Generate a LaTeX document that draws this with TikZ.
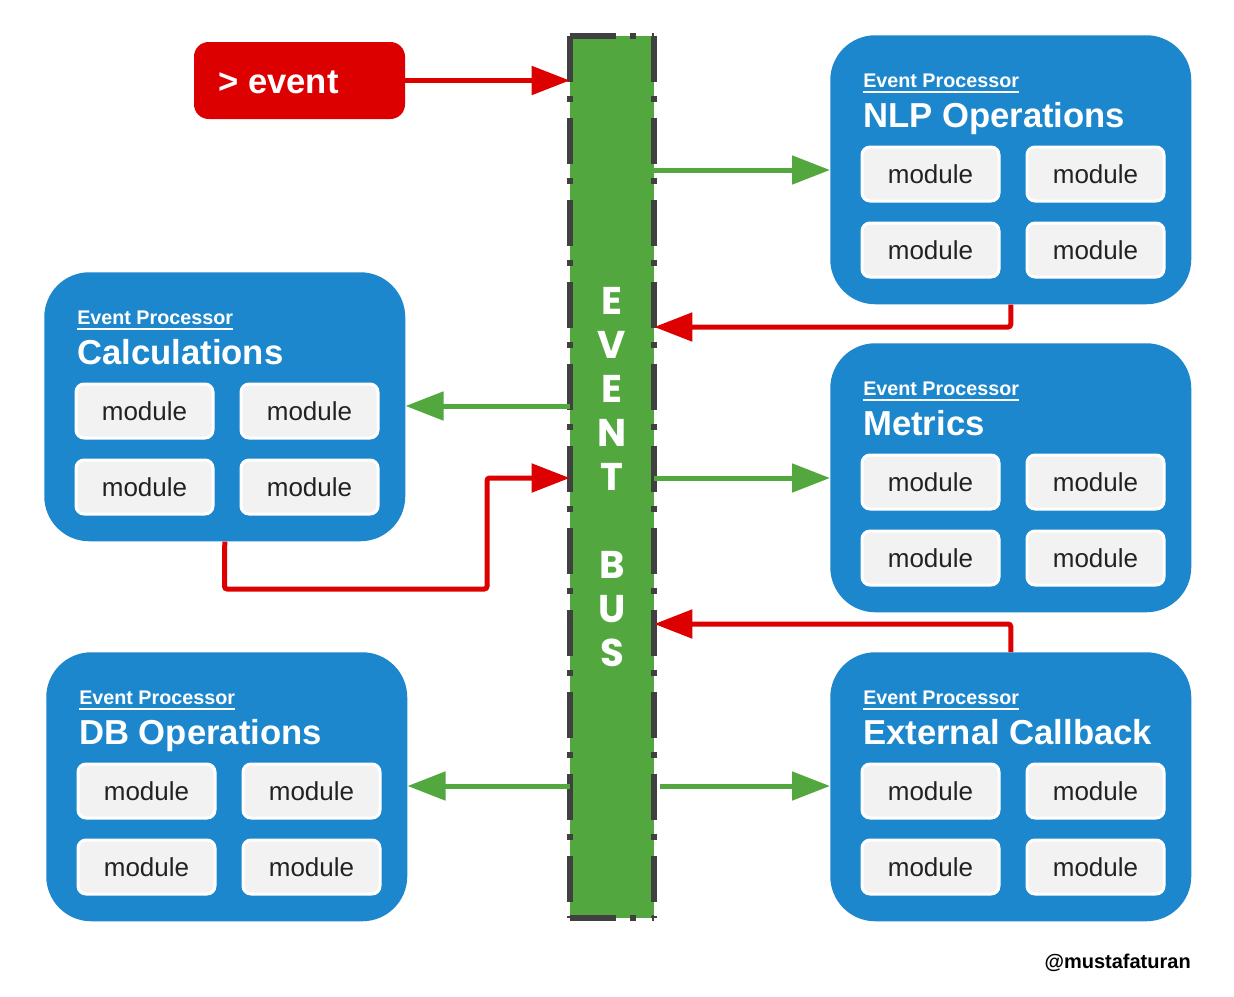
\documentclass[tikz,border=0pt]{standalone}
\usepackage{fontspec}
\setmainfont{Liberation Sans}
\newfontfamily\busfont{Poppins}
\usetikzlibrary{arrows.meta,calc}
\definecolor{epblue}{HTML}{1D87CD}
\definecolor{busgreen}{HTML}{52A83E}
\definecolor{evred}{HTML}{DD0000}
\definecolor{busdark}{HTML}{404040}
\definecolor{modgray}{HTML}{F2F2F2}
\definecolor{modtext}{HTML}{222222}
\tikzset{
  epbox/.style={fill=epblue, rounded corners=33.75pt, minimum width=270.75pt, minimum height=201.75pt, inner sep=0pt},
  eplabel/.style={text=white, font=\bfseries\fontsize{14.8}{16}\selectfont, inner sep=0pt},
  eptitle/.style={text=white, font=\bfseries\fontsize{26}{30}\selectfont, inner sep=0pt},
  modbox/.style={fill=modgray, draw=white, line width=2.25pt, rounded corners=6pt, minimum width=102.75pt, minimum height=40.5pt, inner sep=0pt, text=modtext, font=\fontsize{19.5}{22}\selectfont},
  greenarrow/.style={draw=busgreen, line width=3.75pt, -{Triangle[length=28.5pt,width=21pt]}},
  redarrow/.style={draw=evred, line width=3.75pt, rounded corners=2pt, -{Triangle[length=28.5pt,width=21pt]}},
}
\newcommand\procbox[4]{%
  \node[epbox, anchor=north west] (#1) at (#2,#3) {};
  \node[eplabel, anchor=base west] (#1L) at ({#2+33},{#3+52}) {Event Processor};
  \draw[white, line width=1.5pt] ([yshift=-3.6pt]#1L.base west) -- ([yshift=-3.6pt]#1L.base east);
  \node[eptitle, anchor=base west] (#1T) at ({#2+33},{#3+92}) {#4};
  \node[modbox] (#1m1) at ({#2+100.5},{#3+139}) {module};
  \node[modbox] (#1m2) at ({#2+265.5},{#3+139}) {module};
  \node[modbox] (#1m3) at ({#2+100.5},{#3+215}) {module};
  \node[modbox] (#1m4) at ({#2+265.5},{#3+215}) {module};
}
\begin{document}
\begin{tikzpicture}[x=0.75pt,y=-0.75pt]
\useasboundingbox[fill=white] (0,0) rectangle (1234,996);

% event bus
\node[fill=busgreen, minimum width=63pt, minimum height=661.5pt, inner sep=0pt,
      text=white, align=center, font=\busfont\bfseries\fontsize{29}{33}\selectfont]
  (bus) at (612,477) {E\\V\\E\\N\\T\\\mbox{}\\B\\U\\S};
\draw[busdark, line width=4.5pt, dash pattern=on 34.5pt off 10.5pt on 4.5pt off 12pt]
  (bus.north west) -- (bus.south west) (bus.north east) -- (bus.south east)
  (bus.north west) -- (bus.north east) (bus.south west) -- (bus.south east);

% input event
\node[fill=evred, rounded corners=11pt, minimum width=158.25pt, minimum height=57.75pt, inner sep=0pt] (ev) at (299.5,80.5) {};
\node[text=white, font=\bfseries\fontsize{26}{30}\selectfont, anchor=base west, inner sep=0pt] (evT) at (218,93) {> event};

% processors
\procbox{nlp}{830}{35}{NLP Operations}
\procbox{met}{830}{343}{Metrics}
\procbox{ext}{830}{652}{External Callback}
\procbox{calc}{44}{272}{Calculations}
\procbox{db}{46}{652}{DB Operations}

% connectors
\draw[redarrow] (ev.east) -- (bus.west |- ev.east);
\draw[greenarrow] (bus.east |- 0,170) -- (nlp.west |- 0,170);
\draw[redarrow] (nlp.south) |- (bus.east |- 0,327);
\draw[greenarrow] (bus.west |- 0,406) -- (calc.east |- 0,406);
\draw[redarrow] (calc.south) -- (224.5,589) -- (487,589) -- (487,478) -- (bus.west |- 0,478);
\draw[greenarrow] (bus.east |- 0,478) -- (met.west |- 0,478);
\draw[redarrow] (ext.north) |- (bus.east |- 0,624);
\draw[greenarrow] (bus.west |- 0,786) -- (db.east |- 0,786);
\coordinate (extstart) at ($(bus.east |- 0,786)+(6,0)$);
\draw[greenarrow] (extstart) -- (ext.west |- 0,786);

% signature
\node[font=\bfseries\fontsize{15}{18}\selectfont, anchor=base east, inner sep=0pt] (sig) at (1191,968) {@mustafaturan};
\end{tikzpicture}
\end{document}
